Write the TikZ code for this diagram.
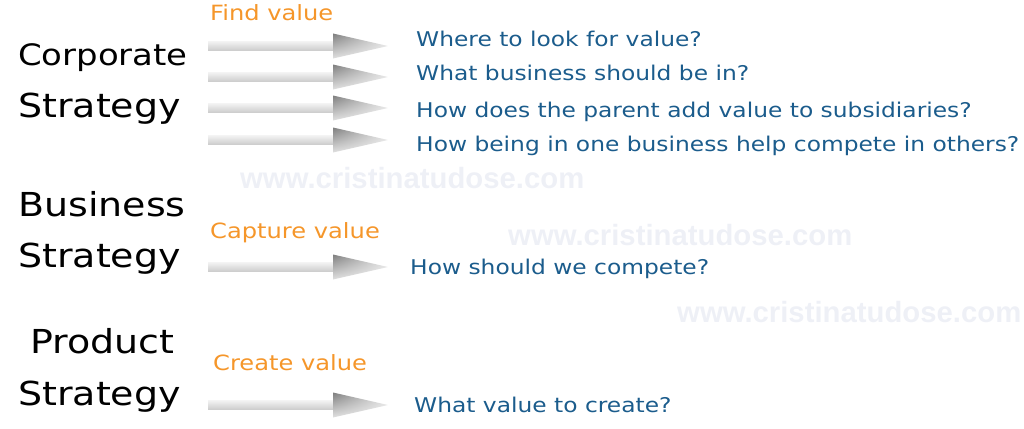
\documentclass[tikz,border=0pt]{standalone}
\usepackage{fontspec}
\usetikzlibrary{shadings}
\newfontfamily\hand[FakeStretch=1.15]{DejaVu Sans}
\newfontfamily\wmfont{Liberation Sans}
\definecolor{qblue}{HTML}{1B5C8C}
\definecolor{vorange}{HTML}{F5962A}
\definecolor{wmgray}{HTML}{EEF0F6}
\tikzset{
  lbl/.style={anchor=base west, inner sep=0pt, font=\hand\fontsize{33}{36}\selectfont, text=black},
  val/.style={anchor=base west, inner sep=0pt, font=\hand\fontsize{21}{24}\selectfont, text=vorange},
  qst/.style={anchor=base west, inner sep=0pt, font=\hand\fontsize{20.3}{24}\selectfont, text=qblue},
  wm/.style={anchor=base west, inner sep=0pt, font=\wmfont\bfseries\fontsize{29.3}{32}\selectfont, text=wmgray},
  bigarrow/.pic={
    \shade[top color=black!5, bottom color=black!20] (0,-4.5) rectangle (126,4.5);
    \shade[upper left=black!50, lower left=black!12, upper right=black!12, lower right=black!5]
      (125,-12.5) -- (180,0) -- (125,12.5) -- cycle;
  }
}
\begin{document}
\begin{tikzpicture}[x=1pt,y=-1pt]
\useasboundingbox (0,0) rectangle (1024,428);
% watermarks
\node[wm] (w1) at (240,188) {www.cristinatudose.com};
\node[wm] (w2) at (508,245) {www.cristinatudose.com};
\node[wm] (w3) at (677,322) {www.cristinatudose.com};
% left labels
\node[lbl, font=\hand\fontsize{29.5}{32}\selectfont] (c1) at (18,66) {Corporate};
\node[lbl] (c2) at (18,117) {Strategy};
\node[lbl] (b1) at (18,216) {Business};
\node[lbl] (b2) at (18,267) {Strategy};
\node[lbl] (p1) at (30,353) {Product};
\node[lbl] (p2) at (18,405) {Strategy};
% value labels
\node[val] (fv) at (210,21) {Find value};
\node[val] (cv) at (210,238) {Capture value};
\node[val] (crv) at (213,370) {Create value};
% arrows
\pic (a1) at (208,46) {bigarrow};
\pic (a2) at (208,77) {bigarrow};
\pic (a3) at (208,108) {bigarrow};
\pic (a4) at (208,140) {bigarrow};
\pic (a5) at (208,267) {bigarrow};
\pic (a6) at (208,405) {bigarrow};
% questions
\node[qst] (q1) at (416,46) {Where to look for value?};
\node[qst] (q2) at (416,80) {What business should be in?};
\node[qst] (q3) at (416,117) {How does the parent add value to subsidiaries?};
\node[qst] (q4) at (416,151) {How being in one business help compete in others?};
\node[qst] (q5) at (410,274) {How should we compete?};
\node[qst] (q6) at (414,412) {What value to create?};
\end{tikzpicture}
\end{document}
